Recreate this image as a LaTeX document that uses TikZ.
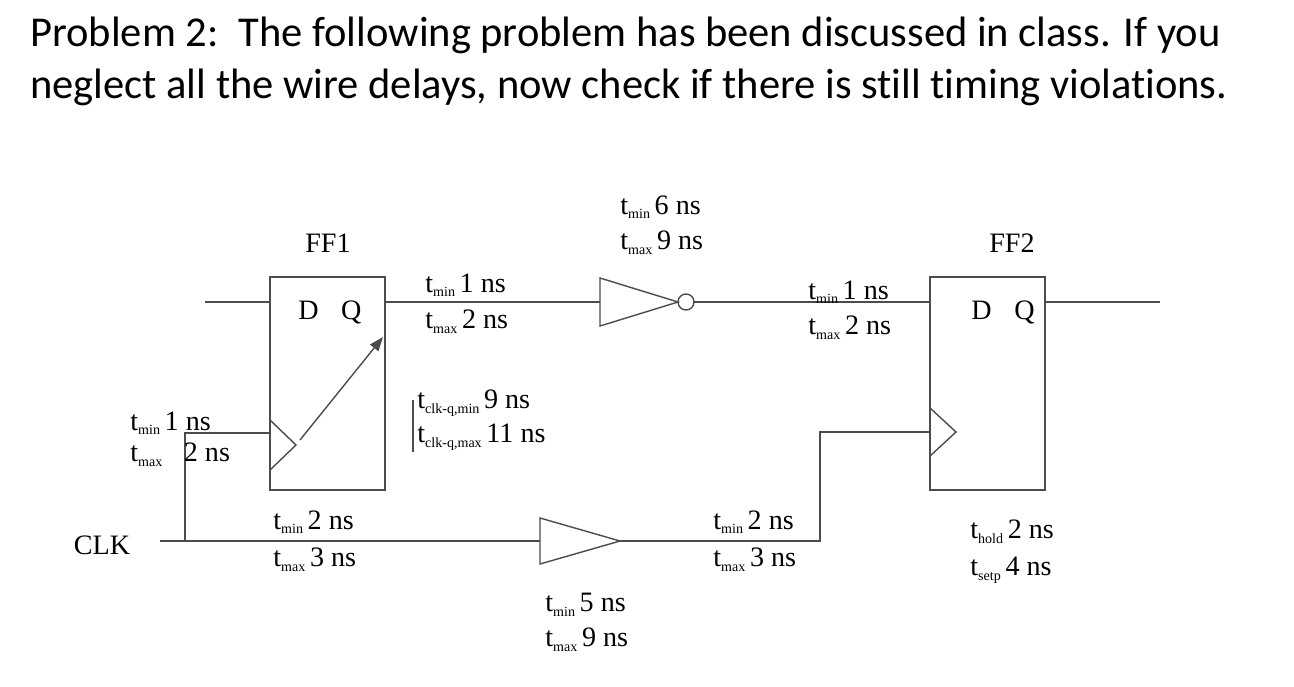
\documentclass[tikz,border=0pt]{standalone}
\usepackage{fontspec}
\setmainfont{Liberation Serif}
\newfontfamily\titlefont[Ligatures={NoCommon}]{Carlito}
\usetikzlibrary{arrows.meta}
\newcommand{\tlab}[2]{t\raisebox{-0.35ex}{\fontsize{8}{8}\selectfont #1}\,\fontsize{16}{16}\selectfont #2}
\tikzset{x=0.02cm,y=-0.02cm,
 wire/.style={line width=0.8pt,draw=black!70},
 ff/.style={draw=black!70,line width=0.8pt},
 lab/.style={font=\fontsize{16}{16}\selectfont,anchor=center,inner sep=0pt},
 ttl/.style={font=\titlefont\fontsize{24.2}{29}\selectfont,anchor=west,inner sep=0pt}}
\begin{document}
\begin{tikzpicture}
\useasboundingbox (0,0) rectangle (1294,686);
\node[ttl] (t1) at (30,35) {Problem 2:\, The following problem has been discussed in class. If you};
\node[ttl] (t2) at (30,87) {neglect all the wire delays, now check if there is still timing violations.};
% FF1
\draw[ff] (270,277) rectangle (385,490);
\node[lab] (ff1) at (328,243) {FF1};
\node[lab] (dq1) at (330,312) {D\hspace{0.8em}Q};
\draw[ff] (270,420) -- (296,445) -- (270,470);
\draw[ff,-{Triangle[length=8pt,width=6pt]}] (300,440) -- (383,337);
% FF2
\draw[ff] (930,277) rectangle (1045,490);
\node[lab] (ff2) at (1012,243) {FF2};
\node[lab] (dq2) at (1003,312) {D\hspace{0.8em}Q};
\draw[ff] (930,408) -- (956,432) -- (930,456);
% data path
\draw[wire] (205,302) -- (270,302);
\draw[wire] (385,302) -- (600,302);
\draw[ff] (600,278) -- (600,326) -- (678,302) -- cycle;
\draw[ff] (686,302) circle (8);
\draw[wire] (694,302) -- (930,302);
\draw[wire] (1045,302) -- (1160,302);
% clock path
\node[lab] (clk) at (102,545) {CLK};
\draw[wire] (160,541) -- (540,541);
\draw[ff] (540,518) -- (540,564) -- (620,541) -- cycle;
\draw[wire] (620,541) -- (820,541) -- (820,432) -- (930,432);
\draw[wire] (185,541) -- (185,433) -- (270,433);
\draw[wire] (413,400) -- (413,452);
% labels
\node[lab,anchor=west] at (130,423) {\tlab{min}{1 ns}};
\node[lab,anchor=west] at (130,455) {\tlab{max}{\hspace{0.6em}2 ns}};
\node[lab,anchor=west] at (425,285) {\tlab{min}{1 ns}};
\node[lab,anchor=west] at (425,322) {\tlab{max}{2 ns}};
\node[lab,anchor=west] at (417,403) {t\raisebox{-0.35ex}{\fontsize{8}{8}\selectfont clk-q,min}\,\fontsize{16}{16}\selectfont 9 ns};
\node[lab,anchor=west] at (417,437) {t\raisebox{-0.35ex}{\fontsize{8}{8}\selectfont clk-q,max}\,\fontsize{16}{16}\selectfont 11 ns};
\node[lab,anchor=west] at (620,207) {\tlab{min}{6 ns}};
\node[lab,anchor=west] at (620,243) {\tlab{max}{9 ns}};
\node[lab,anchor=west] at (808,292) {\tlab{min}{1 ns}};
\node[lab,anchor=west] at (808,328) {\tlab{max}{2 ns}};
\node[lab,anchor=west] at (273,522) {\tlab{min}{2 ns}};
\node[lab,anchor=west] at (273,560) {\tlab{max}{3 ns}};
\node[lab,anchor=west] at (713,522) {\tlab{min}{2 ns}};
\node[lab,anchor=west] at (713,560) {\tlab{max}{3 ns}};
\node[lab,anchor=west] at (545,605) {\tlab{min}{5 ns}};
\node[lab,anchor=west] at (545,640) {\tlab{max}{9 ns}};
\node[lab,anchor=west] at (970,532) {\tlab{hold}{2 ns}};
\node[lab,anchor=west] at (970,570) {\tlab{setp}{4 ns}};
\end{tikzpicture}
\end{document}
